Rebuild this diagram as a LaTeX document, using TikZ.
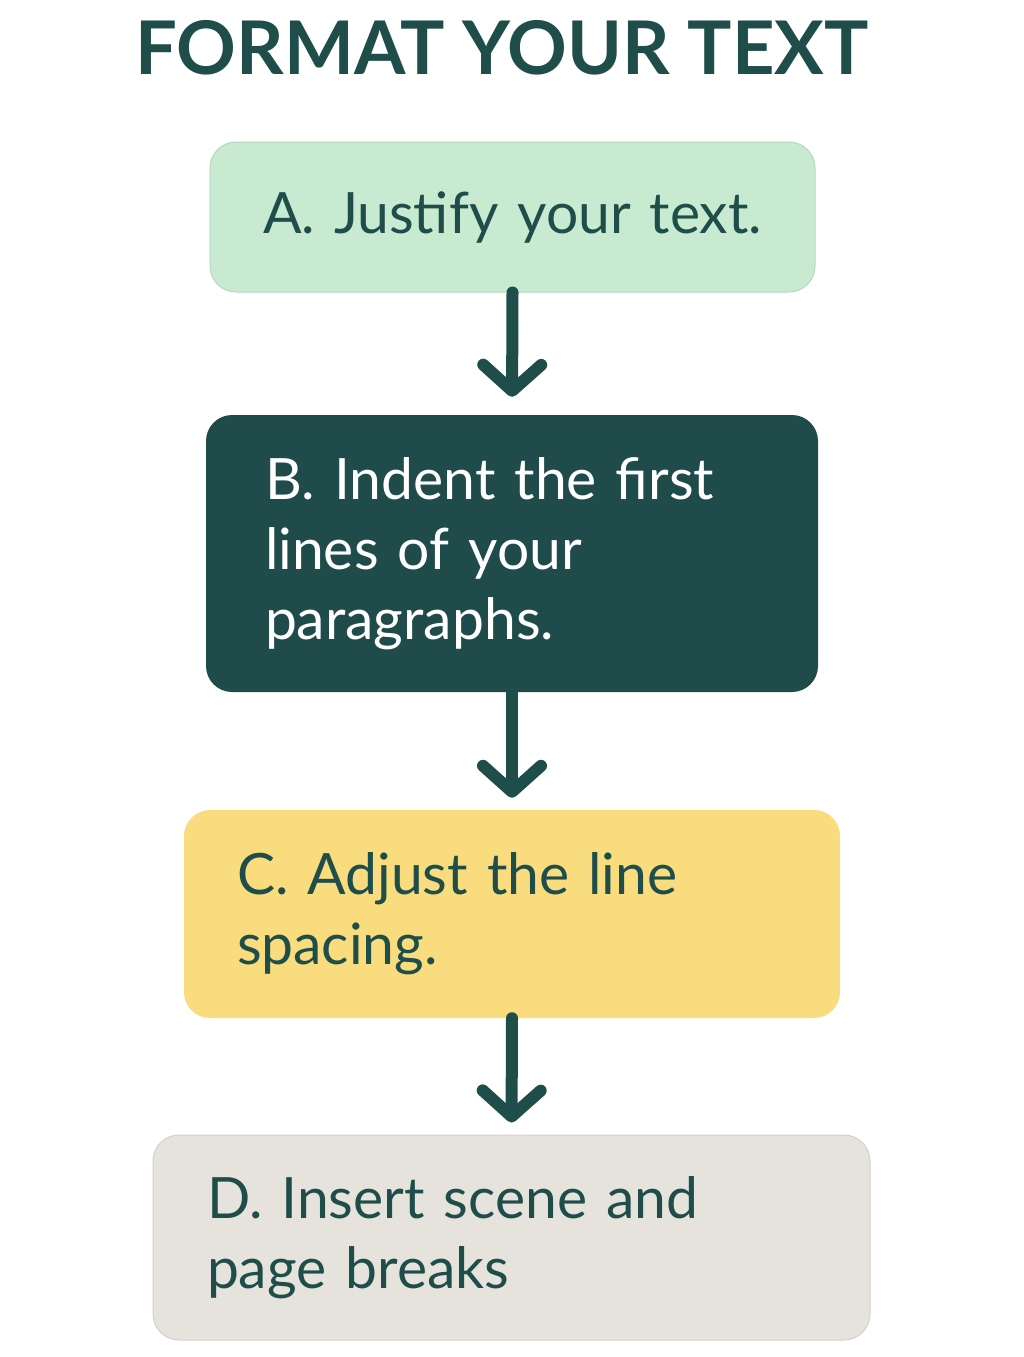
\documentclass[tikz,border=0pt]{standalone}
\usepackage{fontspec}
\setmainfont{Lato}
\usetikzlibrary{arrows.meta}
\definecolor{teal}{HTML}{1F4D4A}
\definecolor{boxdark}{HTML}{1F4B4A}
\definecolor{boxgreen}{HTML}{C7EAD0}
\definecolor{boxyellow}{HTML}{F8DC7D}
\definecolor{boxgray}{HTML}{E5E3DC}
\tikzset{
  stepbox/.style={rounded corners=26pt, inner ysep=0pt, align=left,
    font=\fontsize{57}{70}\selectfont, anchor=center},
  flowarrow/.style={draw=teal, line width=12pt, line cap=round, line join=round,
    -{Straight Barb[length=26pt, width=58pt, line cap=round, line join=round]}},
}
\begin{document}
\begin{tikzpicture}[x=1pt,y=-1pt]
\useasboundingbox[fill=white] (0,0) rectangle (1024,1357);
\node[font=\fontsize{74}{80}\selectfont\bfseries, text=teal, inner sep=0pt] (title) at (502,48) {FORMAT YOUR TEXT};
\node[stepbox, fill=boxgreen, draw=boxgreen!92!black, line width=1pt, text=teal,
  minimum width=605pt, minimum height=150pt, text width=565pt, inner xsep=20pt, align=center] (a) at (512.5,217) {A. Justify your text.};
\node[stepbox, fill=boxdark, text=white,
  minimum width=612pt, minimum height=277pt, text width=494pt, inner xsep=59pt] (b) at (512,553.5) {B. Indent the first\\lines of your\\paragraphs.};
\node[stepbox, fill=boxyellow, text=teal,
  minimum width=656pt, minimum height=208pt, text width=550pt, inner xsep=53pt] (c) at (512,914) {C. Adjust the line\\spacing.};
\node[stepbox, fill=boxgray, draw=boxgray!92!black, line width=1pt, text=teal,
  minimum width=717pt, minimum height=205pt, text width=609pt, inner xsep=54pt] (d) at (511.5,1237.5) {D. Insert scene and\\page breaks};
\draw[flowarrow, shorten >=18pt] (a.south) -- (b.north);
\draw[flowarrow, shorten >=12pt] (b.south) -- (c.north);
\draw[flowarrow, shorten >=12pt] (c.south) -- (d.north);
\end{tikzpicture}
\end{document}
